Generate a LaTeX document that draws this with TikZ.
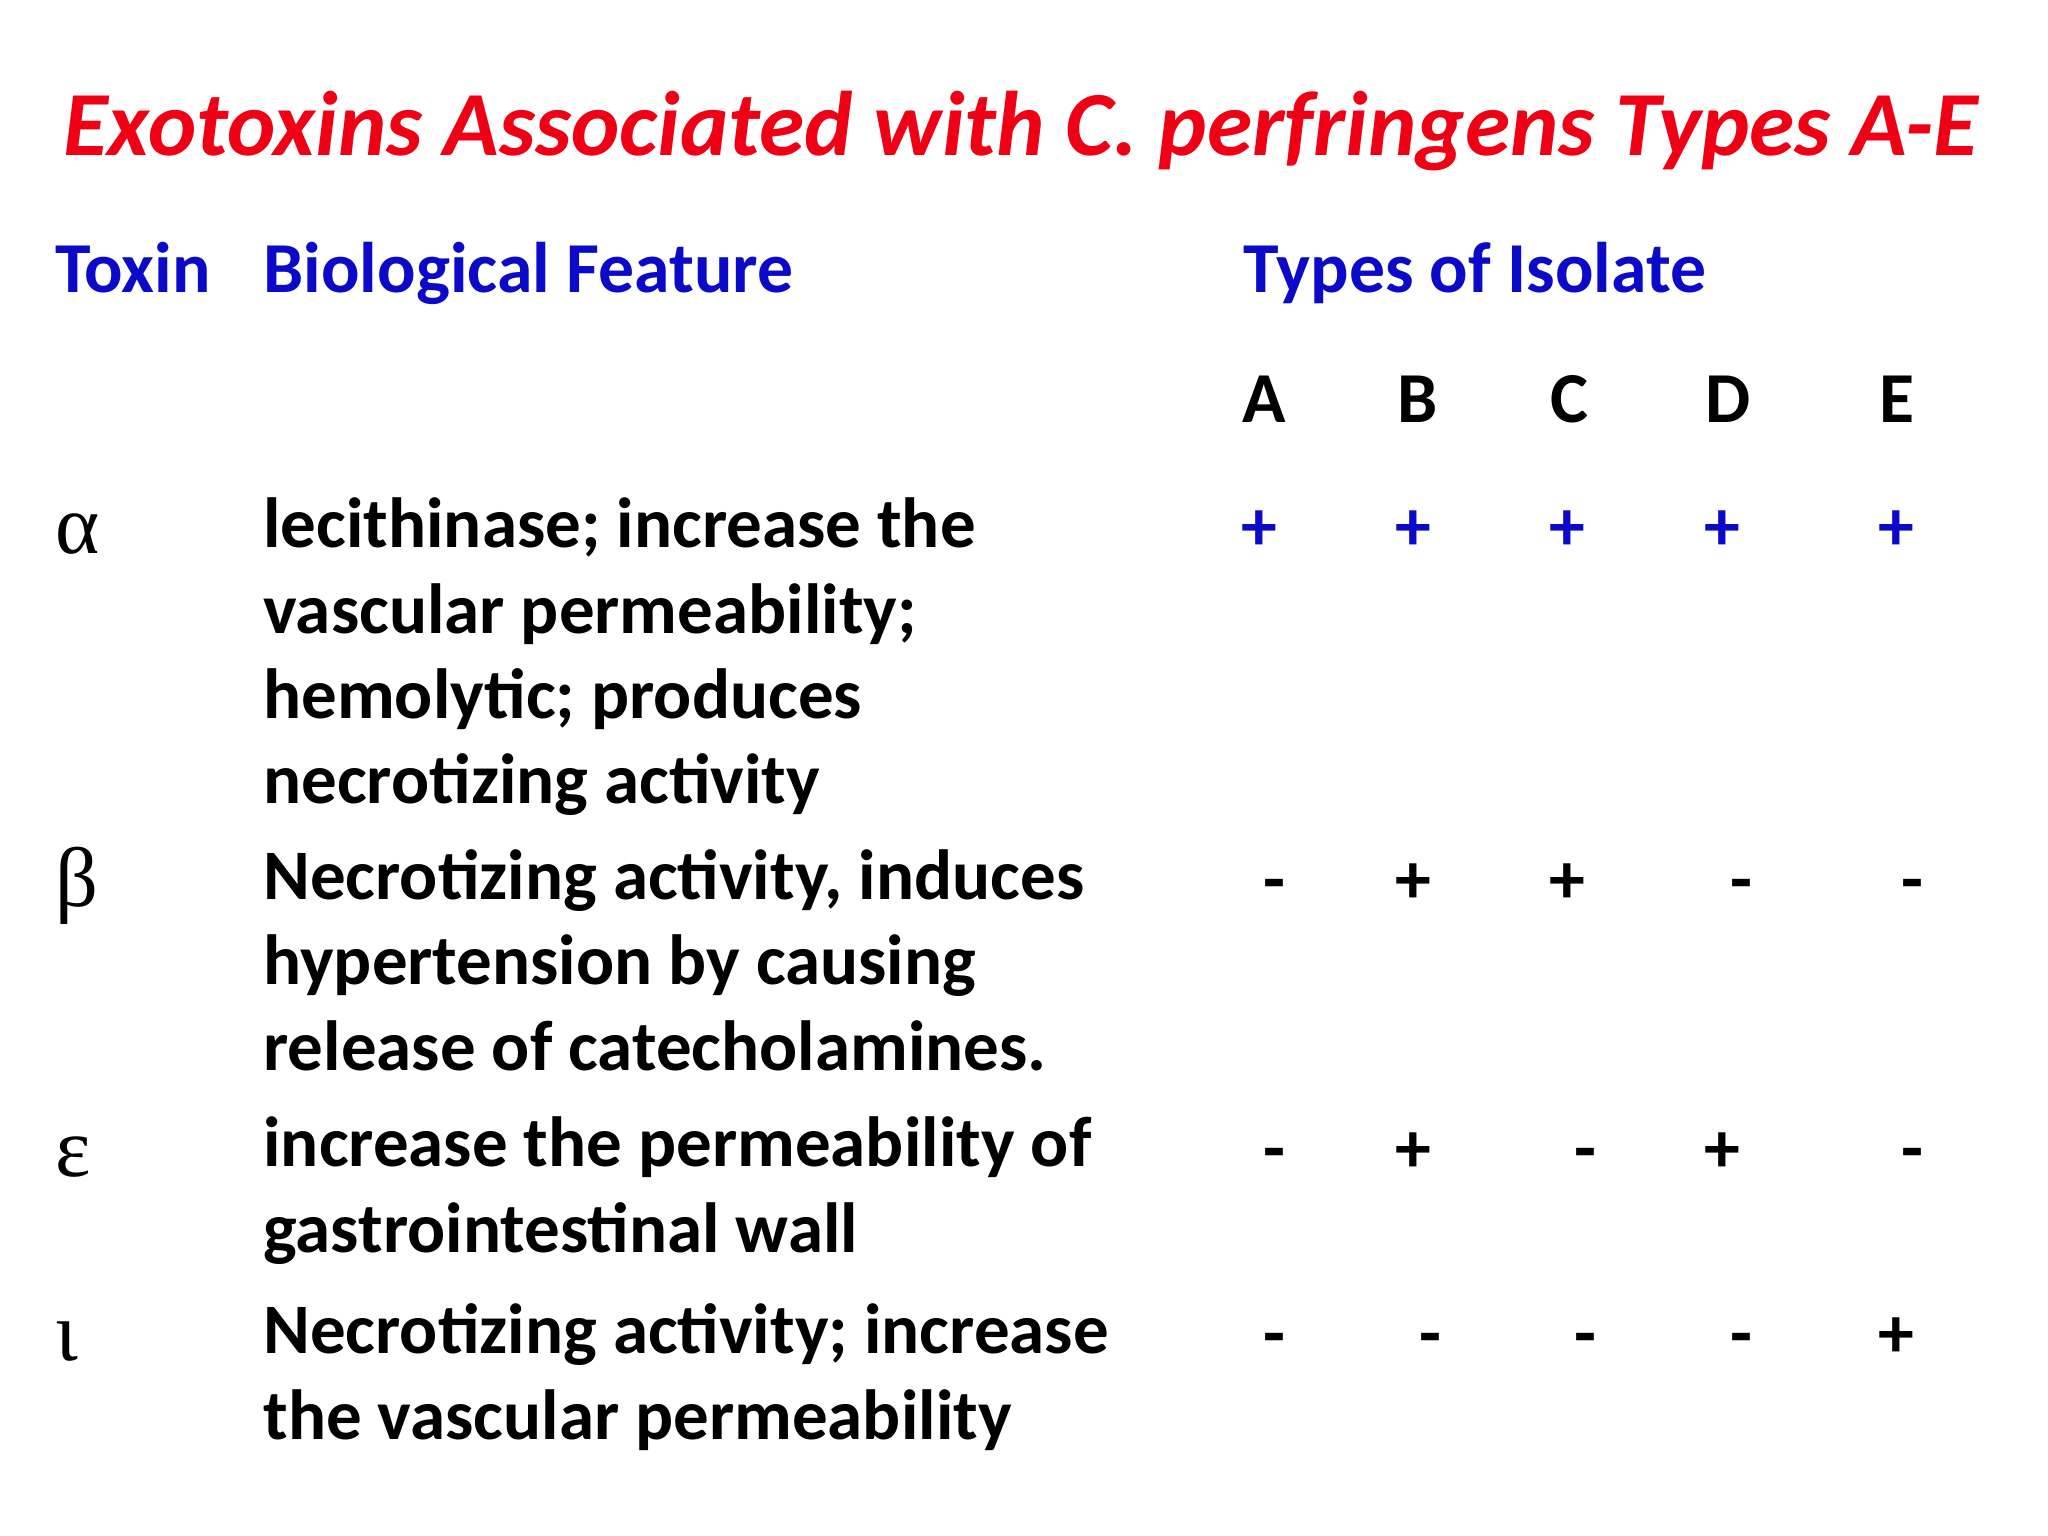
\documentclass[tikz,border=0pt]{standalone}
\usepackage{fontspec}
\setmainfont{Carlito}
\newfontfamily\grk{Liberation Serif}
\definecolor{tred}{RGB}{240,0,20}
\definecolor{tblue}{RGB}{10,10,200}
\begin{document}
\begin{tikzpicture}[x=0.1317mm,y=-0.1317mm,
  every node/.style={inner sep=0pt,outer sep=0pt},
  hdr/.style={anchor=base west,font=\fontsize{20.4}{25}\selectfont\bfseries,text=tblue},
  body/.style={anchor=north west,align=left,font=\fontsize{20.2}{24.3}\selectfont\bfseries},
  sym/.style={anchor=base,font=\fontsize{20.4}{25}\selectfont\bfseries},
  grk/.style={anchor=base west,font=\fontsize{24}{25}\selectfont\grk}]
\useasboundingbox[fill=white] (0,0) rectangle (1555,1166);
\node[anchor=base west,font=\fontsize{26.1}{30}\selectfont\bfseries\itshape,text=tred] (title) at (48,118) {Exotoxins Associated with C. perfringens Types A-E};
\node[hdr] (h1) at (42,222) {Toxin};
\node[hdr] (h2) at (200,222) {Biological Feature};
\node[hdr] (h3) at (944,222) {Types of Isolate};
\foreach \l/\x in {A/960,B/1076,C/1192,D/1312,E/1440}
  \node[sym] (c\l) at (\x,321) {\l};
% rows
\node[grk] (ga) at (42,420) {α};
\node[grk] (gb) at (42,688) {β};
\node[grk] (ge) at (42,893) {ε};
\node[grk] (gi) at (42,1033) {ι};
\node[body] (ra) at (200,378) {lecithinase; increase the\\vascular permeability;\\hemolytic; produces\\necrotizing activity};
\node[body] (rb) at (200,645) {Necrotizing activity, induces\\hypertension by causing\\release of catecholamines.};
\node[body] (re) at (200,848) {increase the permeability of\\gastrointestinal wall};
\node[body] (ri) at (200,990) {Necrotizing activity; increase\\the vascular permeability};
\foreach \x/\n in {956/1,1073/2,1190/3,1308/4,1440/5}
  \node[sym,text=tblue] (pa\n) at (\x,418) {+};
\foreach \s/\x/\n in {-/968/1,+/1073/2,+/1190/3,-/1322/4,-/1452/5}
  \node[sym] (pb\n) at (\x,686) {\s};
\foreach \s/\x/\n in {-/968/1,+/1073/2,-/1204/3,+/1308/4,-/1452/5}
  \node[sym] (pe\n) at (\x,890) {\s};
\foreach \s/\x/\n in {-/968/1,-/1086/2,-/1204/3,-/1322/4,+/1440/5}
  \node[sym] (pi\n) at (\x,1031) {\s};
\end{tikzpicture}
\end{document}
